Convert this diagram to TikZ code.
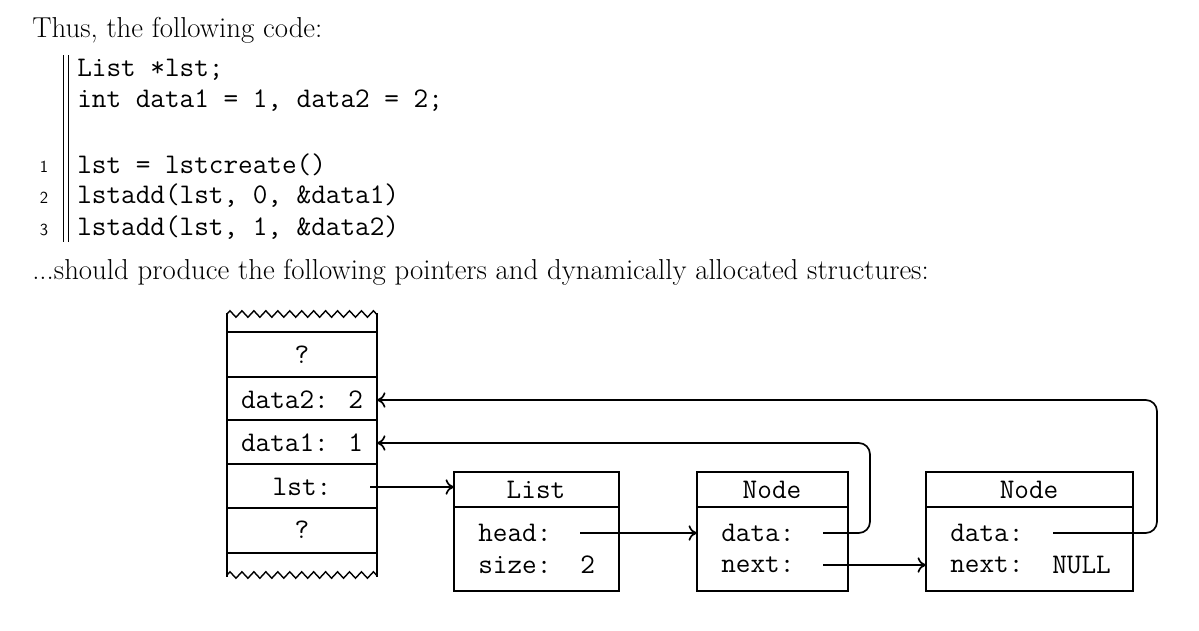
\documentclass[tikz,border=0pt]{standalone}
\usetikzlibrary{decorations.pathmorphing,arrows.meta}
\begin{document}
\begin{tikzpicture}[x=0.025cm,y=-0.025cm,
  txt/.style={inner sep=0pt,anchor=west,font=\fontsize{20.5}{24}\selectfont},
  code/.style={inner sep=0pt,anchor=west,font=\fontsize{20.2}{24}\selectfont\ttfamily},
  num/.style={inner sep=0pt,font=\fontsize{12}{14}\selectfont\sffamily},
  ptr/.style={line width=1.2pt,-{To[length=6pt,width=11pt]}},
  box/.style={line width=1.2pt},
  zz/.style={line width=1pt,decorate,decoration={zigzag,segment length=8.5pt,amplitude=2.3pt}}]
\useasboundingbox (0,0) rectangle (1199,631);
% text and code
\node[txt] (t1) at (32,30) {Thus, the following code:};
\draw[line width=0.6pt] (63,55) -- (63,242) (68,55) -- (68,242);
\node[code] (c1) at (77,70) {List *lst;};
\node[code] (c2) at (77,101) {int data1 = 1, data2 = 2;};
\node[code] (c3) at (77,165) {lst = lstcreate()};
\node[code] (c4) at (77,196) {lstadd(lst, 0, \&data1)};
\node[code] (c5) at (77,228) {lstadd(lst, 1, \&data2)};
\node[num] (n1) at (44,167) {1};
\node[num] (n2) at (44,198) {2};
\node[num] (n3) at (44,230) {3};
\node[txt] (t2) at (32,272) {...should produce the following pointers and dynamically allocated structures:};
% stack
\draw[box] (227,313) -- (227,577) (377,313) -- (377,577);
\draw[zz] (227,314) -- (377,314);
\draw[zz] (227,575) -- (377,575);
\foreach \y in {332,377,420,464,508,553} \draw[box] (227,\y) -- (377,\y);
\node[code,anchor=center] (s1) at (302,355) {?};
\node[code,anchor=center] (s2) at (302,400) {data2: 2};
\node[code,anchor=center] (s3) at (302,443) {data1: 1};
\node[code,anchor=center] (s4) at (302,487) {lst:};
\node[code,anchor=center] (s5) at (302,530) {?};
\coordinate (d2) at (377,400);
\coordinate (d1) at (377,443);
\coordinate (lp) at (370,487);
% List
\draw[box] (454,472) rectangle (619,591) (454,507) -- (619,507);
\coordinate (L) at (454,487);
\node[code,anchor=center] (lh) at (536,490) {List};
\node[code] (lhead) at (478,533) {head:};
\node[code] (lsize) at (478,565) {size:};
\node[code] (lsz) at (580,565) {2};
\coordinate (hp) at (580,533);
% Node 1
\draw[box] (697,472) rectangle (848,591) (697,507) -- (848,507);
\coordinate (N1) at (697,533);
\node[code,anchor=center] (nh1) at (772,490) {Node};
\node[code] (nd1) at (721,533) {data:};
\node[code] (nn1) at (721,565) {next:};
\coordinate (dp1) at (823,533);
\coordinate (np1) at (823,565);
% Node 2
\draw[box] (926,472) rectangle (1133,591) (926,507) -- (1133,507);
\coordinate (N2) at (926,565);
\node[code,anchor=center] (nh2) at (1029,490) {Node};
\node[code] (nd2) at (950,533) {data:};
\node[code] (nn2) at (950,565) {next:};
\node[code] (nul) at (1052,565) {NULL};
\coordinate (dp2) at (1053,533);
% pointers
\draw[ptr] (lp) -- (L);
\draw[ptr] (hp) -- (N1);
\draw[ptr] (np1) -- (N2);
\draw[ptr,rounded corners=8pt] (dp1) -- (870,533) -- (870,443) -- (d1);
\draw[ptr,rounded corners=8pt] (dp2) -- (1157,533) -- (1157,400) -- (d2);
\end{tikzpicture}
\end{document}
